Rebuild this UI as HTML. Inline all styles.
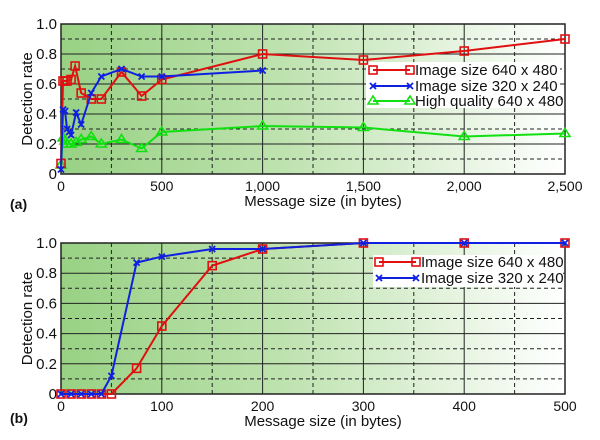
<!DOCTYPE html>
<html><head><meta charset="utf-8"><style>
html,body{margin:0;padding:0;background:#fff;width:600px;height:440px;overflow:hidden}
text{font-family:"Liberation Sans",sans-serif;fill:#111}
</style></head><body>
<svg id="s" width="600" height="440" xmlns="http://www.w3.org/2000/svg">
<defs>
<linearGradient id="g" x1="0" x2="1" y1="0" y2="0">
<stop offset="0" stop-color="#98d184"/><stop offset="0.45" stop-color="#bfe3b0"/><stop offset="1" stop-color="#ffffff"/>
</linearGradient>
</defs>
</svg>
<script>
var s=document.getElementById('s'),NS='http://www.w3.org/2000/svg';
function el(t,a,txt){var e=document.createElementNS(NS,t);for(var k in a)e.setAttribute(k,a[k]);if(txt!=null)e.textContent=txt;s.appendChild(e);return e;}
function chart(top,bot,L,R,xmax,xmajor,xlabels,series,legend,lg,tag,tagY){
  el('rect',{x:L,y:top,width:R-L,height:bot-top,fill:'url(#g)'});
  var X=function(v){return L+(R-L)*v/xmax},Y=function(v){return bot-(bot-top)*v};
  for(var i=1;i<10;i++){var y=Y(i/10);el('line',{x1:L,x2:R,y1:y,y2:y,stroke:'#222','stroke-width':1,'stroke-dasharray':i%2?'4,3':''});}
  for(var v=xmajor/2;v<xmax;v+=xmajor/2){var x=X(v);el('line',{x1:x,x2:x,y1:top,y2:bot,stroke:'#222','stroke-width':1,'stroke-dasharray':(Math.round(v/xmajor*2)%2)?'4,3':''});}
  el('rect',{x:lg[0],y:lg[1],width:lg[2],height:lg[3],fill:'#fff'});
  el('rect',{x:L,y:top,width:R-L,height:bot-top,fill:'none',stroke:'#222','stroke-width':1.5});
  ['0','0.2','0.4','0.6','0.8','1.0'].forEach(function(t,i){el('text',{x:L-4,y:Y(i/5)+5,'text-anchor':'end','font-size':15},t)});
  xlabels.forEach(function(p){el('text',{x:X(p[0]),y:bot+17,'text-anchor':'middle','font-size':14},p[1])});
  el('text',{x:(L+R)/2+10,y:bot+32,'text-anchor':'middle','font-size':15},'Message size (in bytes)');
  el('text',{x:0,y:0,'font-size':15,transform:'translate('+(L-29)+','+((top+bot)/2)+') rotate(-90)','text-anchor':'middle'},'Detection rate');
  el('text',{x:10,y:tagY,'font-size':14,'font-weight':'bold'},tag);
  series.forEach(function(sr){
    var pts=sr.d.map(function(p){return X(p[0])+','+Y(p[1])}).join(' ');
    el('polyline',{points:pts,fill:'none',stroke:sr.c,'stroke-width':2});
    sr.d.forEach(function(p){mark(sr.m,X(p[0]),Y(p[1]),sr.c)});
  });
  legend.forEach(function(l){
    el('line',{x1:l.x1,x2:l.x2,y1:l.y,y2:l.y,stroke:l.c,'stroke-width':2});
    mark(l.m,l.x1,l.y,l.c);mark(l.m,l.x2,l.y,l.c);
    el('text',{x:l.x2+5,y:l.y+5,'font-size':15},l.t);
  });
}
function mark(m,x,y,c){
  if(m=='s')el('rect',{x:x-4,y:y-4,width:8,height:8,fill:'none',stroke:c,'stroke-width':1.6});
  else if(m=='x'){el('path',{d:'M'+(x-3)+' '+(y-3)+'L'+(x+3)+' '+(y+3)+'M'+(x+3)+' '+(y-3)+'L'+(x-3)+' '+(y+3),stroke:c,'stroke-width':1.8});}
  else el('path',{d:'M'+x+' '+(y-5)+'L'+(x+5)+' '+(y+3)+'L'+(x-5)+' '+(y+3)+'Z',fill:'none',stroke:c,'stroke-width':1.6});
}
chart(24,174,61,565,2500,500,[[0,'0'],[500,'500'],[1000,'1,000'],[1500,'1,500'],[2000,'2,000'],[2500,'2,500']],[
 {c:'#10e010',m:'t',d:[[0,.06],[10,.24],[20,.22],[30,.2],[50,.2],[75,.21],[100,.23],[150,.25],[200,.2],[300,.23],[400,.17],[500,.28],[1000,.32],[1500,.31],[2000,.25],[2500,.27]]},
 {c:'#e01010',m:'s',d:[[0,.07],[10,.62],[20,.62],[30,.62],[50,.63],[70,.72],[100,.54],[150,.5],[200,.5],[300,.68],[400,.52],[500,.63],[1000,.8],[1500,.76],[2000,.82],[2500,.9]]},
 {c:'#1020e0',m:'x',d:[[0,.03],[10,.43],[20,.42],[30,.3],[40,.28],[50,.26],[75,.41],[100,.33],[150,.54],[200,.65],[300,.7],[400,.65],[500,.65],[1000,.69]]}
],[
 {x1:373,x2:410,y:70,c:'#e01010',m:'s',t:'Image size 640 x 480'},
 {x1:373,x2:410,y:86,c:'#1020e0',m:'x',t:'Image size 320 x 240'},
 {x1:373,x2:410,y:101,c:'#10e010',m:'t',t:'High quality 640 x 480'}
],[366,62,194,46],'(a)',209);
chart(243,394,61,565,500,100,[[0,'0'],[100,'100'],[200,'200'],[300,'300'],[400,'400'],[500,'500']],[
 {c:'#e01010',m:'s',d:[[0,0],[10,0],[20,0],[30,0],[40,0],[50,0],[75,.17],[100,.45],[150,.85],[200,.96],[300,1],[400,1],[500,1]]},
 {c:'#1020e0',m:'x',d:[[0,0],[10,0],[20,0],[30,0],[40,0],[50,.12],[75,.87],[100,.91],[150,.96],[200,.96],[300,1],[400,1],[500,1]]}
],[
 {x1:379,x2:416,y:262,c:'#e01010',m:'s',t:'Image size 640 x 480'},
 {x1:379,x2:416,y:278,c:'#1020e0',m:'x',t:'Image size 320 x 240'}
],[373,255,190,32],'(b)',423);
</script>
</body></html>
